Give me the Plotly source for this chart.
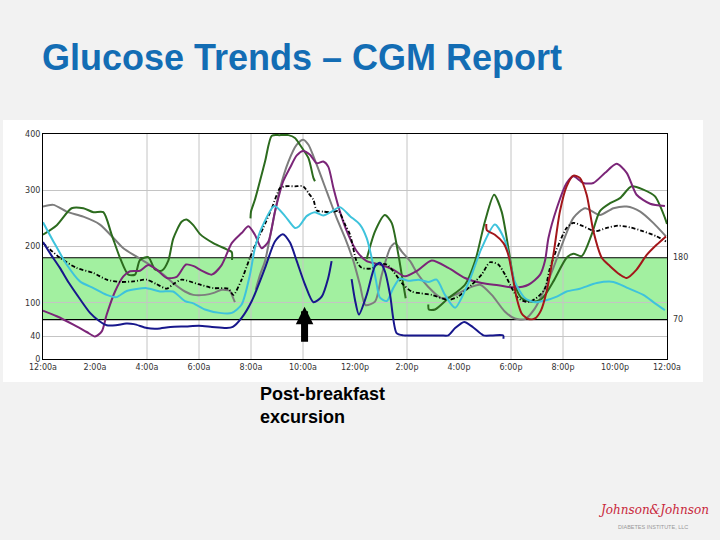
import plotly.graph_objects as go

# ---------------- data (hours since midnight, mg/dL) ----------------
tick_hours = [0, 2, 4, 6, 8, 10, 12, 14, 16, 18, 20, 22, 24]
tick_labels = ["12:00a", "2:00a", "4:00a", "6:00a", "8:00a", "10:00a", "12:00p",
               "2:00p", "4:00p", "6:00p", "8:00p", "10:00p", "12:00a"]
vgrid_hours = [4, 6, 8, 10, 14, 18, 20]
y_ticks = [0, 40, 100, 200, 300, 400]
target_low, target_high = 70, 180

navy_h = [0, 0.3, 0.65, 1.0, 1.4, 1.81, 2.15, 2.45, 2.8, 3.2, 3.5, 4.0, 4.4, 4.9, 5.5, 6.0,
          6.5, 7.06, 7.3, 7.64, 8.03, 8.54, 8.92, 9.22, 9.5, 9.76, 10.08, 10.4, 10.72, 10.97, 11.1,
          None,
          11.87, 12.0, 12.15, 12.45, 12.77, 12.96, 13.15, 13.35, 13.6, 13.86, 14.5, 15.3, 15.59,
          15.85, 16.2, 16.55, 16.94, 17.3, 17.7, 17.71]
navy_v = [208, 186, 162, 135, 108, 82, 68, 60, 60, 63, 62, 55, 54, 57, 58, 59,
          57, 55, 57, 73, 103, 162, 209, 222, 207, 174, 132, 101, 111, 144, 174,
          None,
          142, 105, 79, 114, 165, 171, 156, 114, 46, 42, 42, 42, 42,
          55, 66, 56, 42, 42, 42, 36]

cyan_h = [0, 0.4, 0.91, 1.42, 1.94, 2.45, 2.83, 3.22, 3.99, 4.5, 5.0, 5.46, 5.78, 6.23, 6.8,
          7.26, 7.64, 7.96, 8.15, 8.41, 8.9, 9.31, 9.69, 9.85, 10.14, 10.46, 10.78, 11.1, 11.42,
          11.81, 12.19, 12.45, 12.64, 12.81, 12.96, 13.22, 13.47, 13.73, 14.05, 14.44, 14.82,
          15.14, 15.46, 15.85, 16.36, 16.87, 17.38, 17.77, 18.15, 18.54, 18.92, 19.31, 19.76,
          20.14, 20.65, 21.3, 21.94, 22.45, 23.09, 23.54, 23.92]
cyan_v = [243, 209, 168, 138, 126, 114, 110, 121, 126, 120, 120, 103, 99, 88, 82,
          82, 97, 150, 197, 233, 272, 254, 233, 236, 254, 261, 255, 262, 270,
          254, 239, 215, 180, 139, 109, 103, 126, 143, 139, 141, 137,
          141, 114, 91, 135, 197, 239, 210, 137, 108, 101, 104, 111,
          120, 125, 135, 137, 127, 114, 99, 87]

green_h = [0, 0.53, 1.1, 1.55, 1.94, 2.32, 2.64, 2.96, 3.28, 3.54, 3.73, 4.05, 4.31, 4.57,
           4.82, 5.01, 5.33, 5.52, 5.78, 6.04, 6.55, 7.06, 7.26, 7.27,
           None,
           7.98, 8.0, 8.15, 8.54, 8.8, 9.1, 9.44, 9.69, 9.88, 10.21, 10.4, 10.46,
           None,
           12.45, 12.77, 13.15, 13.41, 13.67, 13.86, 13.95,
           None,
           14.82, 14.84, 15.08, 15.59, 16.23, 16.62, 17.0, 17.35, 17.64, 17.9, 18.15, 18.41,
           18.79, 19.12, 19.31, 19.63, 20.14, 20.4, 20.72, 21.1, 21.42, 21.81, 22.19, 22.64,
           23.09, 23.54, 23.92, 24.0]
green_v = [221, 238, 268, 268, 261, 261, 221, 180, 150, 150, 176, 181, 159, 157,
           175, 214, 244, 248, 238, 222, 206, 195, 190, 176,
           None,
           250, 262, 283, 351, 397, 398, 398, 393, 381, 357, 322, 316,
           None,
           178, 227, 256, 242, 185, 132, 108,
           None,
           97, 88, 88, 108, 132, 174, 245, 292, 262, 197, 132, 108,
           102, 105, 114, 138, 180, 187, 183, 221, 263, 277, 286, 307,
           301, 289, 251, 240]

gray_h = [0, 0.4, 0.91, 1.55, 2.19, 2.71, 3.09, 3.6, 4.12, 4.63, 5.0, 5.46, 5.78, 6.23, 6.6,
          6.87, 7.19, 7.3, 7.38,
          None,
          8.18, 8.35, 8.54, 8.8, 9.12, 9.44, 9.76, 10.01, 10.21, 10.53, 10.91, 11.3, 11.62,
          11.94, 12.19, 12.4, 12.77, 13.03, 13.35, 13.54, 13.8, 14.12, 14.4, 14.82, 15.33,
          15.85, 16.36, 16.81, 17.26, 17.77, 18.15, 18.54, 18.92, 19.31, 19.63, 20.01, 20.4,
          20.85, 21.42, 21.94, 22.45, 22.97, 23.47, 23.96]
gray_v = [271, 274, 262, 253, 239, 215, 197, 182, 167, 150, 135, 120, 114, 114, 118,
          123, 121, 110, 101,
          None,
          123, 150, 174, 233, 304, 351, 381, 390, 381, 345, 298, 250, 215,
          174, 132, 96, 102, 150, 197, 206, 191, 174, 152, 128, 108,
          114, 126, 132, 114, 84, 72, 71, 90, 126, 162, 209, 251,
          268, 256, 268, 271, 262, 242, 218]

purple_h = [0, 0.53, 1.17, 1.68, 2.0, 2.26, 2.45, 2.77, 3.09, 3.35, 3.73, 4.05, 4.37, 4.76,
            5.14, 5.5, 5.8, 6.1, 6.49, 6.87, 7.26, 7.64, 7.9, 8.15, 8.41, 8.67, 8.92, 9.24,
            9.5, 9.76, 10.01, 10.27, 10.53, 10.78, 10.97, 11.17, 11.42, 11.74, 12.06, 12.45,
            12.96, 13.47, 13.92, 14.4, 14.95, 15.59, 16.23, 16.87, 17.51, 18.15, 18.67, 19.12,
            19.31, 19.44, 19.76, 20.14, 20.4, 20.78, 21.17, 21.62, 22.06, 22.45, 22.83, 23.35,
            23.92]
purple_v = [86, 76, 61, 48, 40, 49, 79, 120, 147, 156, 157, 167, 159, 144,
            146, 168, 165, 157, 150, 167, 206, 224, 236, 221, 197, 209, 262, 316,
            340, 362, 370, 363, 348, 351, 342, 304, 262, 221, 192, 174,
            168, 159, 147, 157, 175, 162, 144, 135, 131, 127, 132, 150,
            175, 215, 268, 313, 325, 313, 313, 331, 347, 331, 292, 276,
            272]

black_h = [0, 0.65, 1.29, 1.94, 2.45, 2.96, 3.47, 3.99, 4.37, 4.76, 5.01, 5.33, 5.97, 6.55,
           7.13, 7.32, 7.64, 7.96, 8.22, 8.47, 8.8, 9.12, 9.31, 9.69, 10.01, 10.21, 10.4, 10.53,
           10.78, 11.1, 11.36, 11.62, 11.81, 12.06, 12.26, 12.64, 12.83, 13.22, 13.47, 13.86,
           14.18, 14.5, 14.95, 15.59, 15.97, 16.49, 16.87, 17.19, 17.51, 17.77, 18.03, 18.28,
           18.67, 19.05, 19.31, 19.5, 19.88, 20.14, 20.4, 20.78, 21.23, 21.68, 22.13, 22.58,
           23.09, 23.6, 23.96]
black_v = [206, 180, 162, 153, 141, 137, 138, 141, 133, 125, 133, 141, 133, 126,
           125, 114, 141, 180, 209, 233, 268, 304, 307, 307, 307, 295, 283, 264,
           262, 261, 263, 239, 221, 174, 162, 161, 168, 168, 156, 132,
           120, 117, 114, 105, 111, 132, 150, 172, 168, 150, 126, 108,
           101, 111, 126, 162, 209, 233, 242, 236, 227, 233, 237, 234,
           227, 218, 209]

red_h = [17.05, 17.07, 17.38, 17.71, 17.9, 18.05, 18.22, 18.41, 18.67, 18.92, 19.15, 19.37,
         19.63, 19.88, 20.14, 20.4, 20.65, 20.91, 21.17, 21.49, 21.81, 22.19, 22.45, 22.83,
         23.22, 23.6, 23.96]
red_v = [240, 229, 221, 206, 185, 150, 108, 81, 71, 72, 86, 120,
         185, 262, 307, 326, 322, 292, 227, 180, 165, 150, 144, 159,
         185, 203, 218]

series = [
    ("gray", gray_h, gray_v, "#7d7d7d", "solid", 2),
    ("green", green_h, green_v, "#2c6b1e", "solid", 2),
    ("purple", purple_h, purple_v, "#7b2578", "solid", 2),
    ("black", black_h, black_v, "#000000", "4px,2px,1px,2px", 1.8),
    ("cyan", cyan_h, cyan_v, "#3ec3dc", "solid", 2),
    ("navy", navy_h, navy_v, "#17178c", "solid", 2),
    ("red", red_h, red_v, "#a3161a", "solid", 2),
]

# ---------------- figure ----------------
L, R, T, B = 43, 53, 134, 181
W, H = 720, 540
PW, PH = W - L - R, H - T - B


def px2paper(xp, yp):
    return (xp - L) / PW, (H - B - yp) / PH


fig = go.Figure()
for name, h, v, col, dash, lw in series:
    fig.add_trace(go.Scatter(
        x=h, y=v, mode="lines", name=name, connectgaps=False,
        line=dict(color=col, width=lw, dash=dash, shape="spline", smoothing=0.7),
        hoverinfo="skip"))

# target band
fig.add_shape(type="rect", xref="x", yref="y", x0=0, x1=24, y0=target_low, y1=target_high,
              fillcolor="#a2f0a0", line=dict(width=0), layer="below")
# vertical grid lines (only those drawn in the report)
for hh in vgrid_hours:
    fig.add_shape(type="line", xref="x", yref="y", x0=hh, x1=hh, y0=0, y1=400,
                  line=dict(color="#c4c4c4", width=1), layer="below")
for lvl in (target_low, target_high):
    fig.add_shape(type="line", xref="x", yref="y", x0=0, x1=24, y0=lvl, y1=lvl,
                  line=dict(color="black", width=1.2), layer="below")

# white chart-image panel
x0p, y0p = px2paper(3, 382)
x1p, y1p = px2paper(703, 120)
fig.add_shape(type="rect", xref="paper", yref="paper", x0=x0p, x1=x1p, y0=y0p, y1=y1p,
              fillcolor="white", line=dict(width=0), layer="below")

ann = []
tx, ty = px2paper(40, 57)
ann.append(dict(xref="paper", yref="paper", x=tx, y=ty, xanchor="left", yanchor="middle",
                text="<b>Glucose Trends – CGM Report</b>", showarrow=False,
                font=dict(family="Liberation Sans, Arial, sans-serif", size=36, color="#136db4")))
px_, py_ = px2paper(258, 382)
ann.append(dict(xref="paper", yref="paper", x=px_, y=py_, xanchor="left", yanchor="top",
                align="left", text="<b>Post-breakfast<br>excursion</b>", showarrow=False,
                font=dict(family="Liberation Sans, Arial, sans-serif", size=18, color="black")))
for lvl in (target_high, target_low):
    ann.append(dict(xref="paper", yref="y", x=1.006, y=lvl, xanchor="left", yanchor="middle",
                    text=str(lvl), showarrow=False,
                    font=dict(family="DejaVu Sans", size=8, color="#333")))
# arrow
ann.append(dict(xref="x", yref="y", axref="x", ayref="y", x=10.06, y=93, ax=10.06, ay=28,
                text="", showarrow=True, arrowhead=2, arrowsize=0.5, arrowwidth=7,
                arrowcolor="black"))
# logo
lx, ly = px2paper(653, 510)
ann.append(dict(xref="paper", yref="paper", x=lx, y=ly, xanchor="center", yanchor="middle",
                text="Johnson&amp;Johnson", showarrow=False,
                font=dict(family="DejaVu Serif", size=12, color="#c9283c", style="italic")))
lx2, ly2 = px2paper(653, 527)
ann.append(dict(xref="paper", yref="paper", x=lx2, y=ly2, xanchor="center", yanchor="middle",
                text="DIABETES INSTITUTE, LLC", showarrow=False,
                font=dict(family="Liberation Sans", size=5.5, color="#999999")))

fig.update_layout(
    width=W, height=H, margin=dict(l=L, r=R, t=T, b=B, pad=0),
    paper_bgcolor="#f2f2f2", plot_bgcolor="white", showlegend=False,
    annotations=ann,
    xaxis=dict(range=[0, 24], tickvals=tick_hours, ticktext=tick_labels, showgrid=False,
               zeroline=False, showline=True,
               linecolor="black", linewidth=1, mirror=True, ticks="",
               tickfont=dict(family="DejaVu Sans", size=8, color="#333")),
    yaxis=dict(range=[0, 400], tickvals=y_ticks, ticktext=[str(t) for t in y_ticks],
               showgrid=True, gridcolor="#c4c4c4", gridwidth=1, zeroline=False,
               showline=True, linecolor="black", linewidth=1, mirror=True, ticks="",
               tickfont=dict(family="DejaVu Sans", size=8, color="#333")),
)

fig.write_html("out.html")
